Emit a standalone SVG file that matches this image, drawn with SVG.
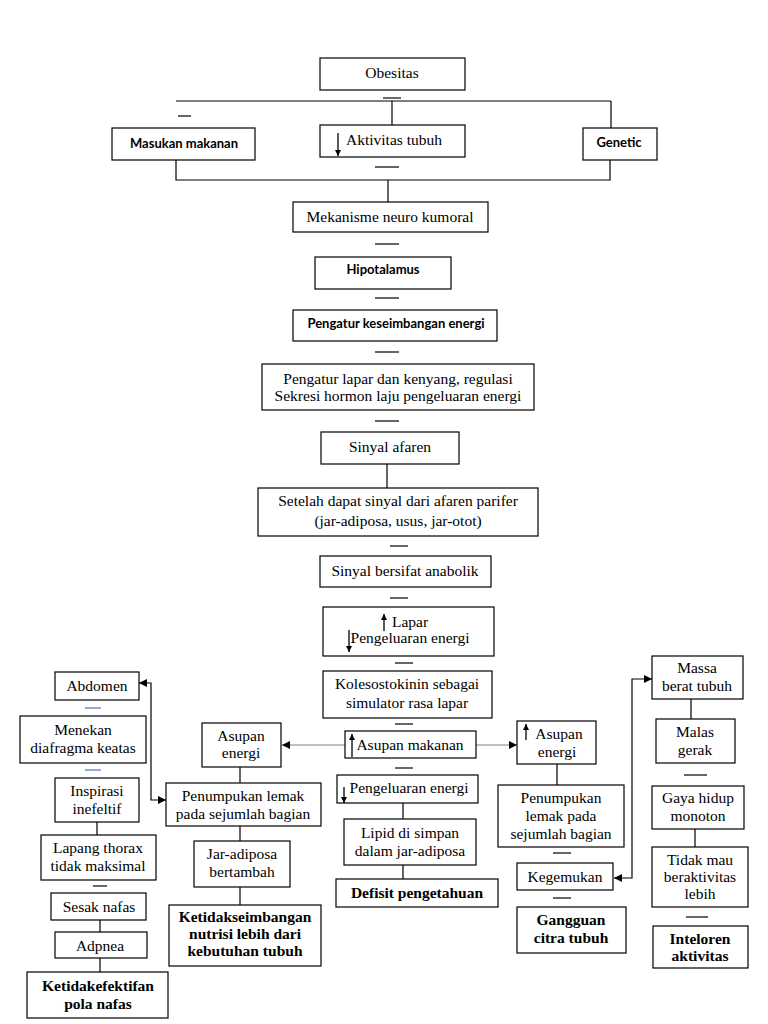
<svg xmlns="http://www.w3.org/2000/svg" width="768" height="1024" viewBox="0 0 768 1024">
<defs>
<style>
.b{fill:#fff;stroke:#000;stroke-width:1.2}
.t{font-family:"Liberation Serif",serif;font-size:15.5px;fill:#000;text-anchor:middle}
.tb{font-family:"Liberation Serif",serif;font-size:15.5px;font-weight:bold;fill:#000;text-anchor:middle}
.s{font-family:Lato,"Liberation Sans",sans-serif;font-size:13px;font-weight:bold;fill:#000;text-anchor:middle}
.l{stroke:#000;stroke-width:1.2;fill:none}
.g{stroke:#808080;stroke-width:1.2;fill:none}
.d{stroke:#000;stroke-width:1.2}
.bd{stroke:#4a72c0;stroke-width:1.2}
.ia{stroke:#000;stroke-width:1.3}
</style>
<marker id="ah" viewBox="0 0 10 10" refX="10" refY="5" markerWidth="8" markerHeight="8" markerUnits="userSpaceOnUse" orient="auto-start-reverse">
<path d="M0,0L10,5L0,10z" fill="#000"/>
</marker>
<marker id="sa" viewBox="0 0 10 10" refX="10" refY="5" markerWidth="6" markerHeight="6" markerUnits="userSpaceOnUse" orient="auto">
<path d="M0,0L10,5L0,10z" fill="#000"/>
</marker>
</defs>
<rect width="768" height="1024" fill="#fff"/>

<g id="connectors">
<line class="d" x1="383" y1="98" x2="401" y2="98"/>
<polyline class="l" points="176,101 611,101"/>
<line class="l" x1="392" y1="101" x2="392" y2="126"/>
<line class="l" x1="611" y1="101" x2="611" y2="128"/>
<line class="d" x1="178" y1="116" x2="191" y2="116"/>
<line class="d" x1="375" y1="167" x2="399" y2="167"/>
<polyline class="l" points="176,160 176,180 610,180 610,160"/>
<line class="l" x1="388" y1="180" x2="388" y2="202"/>
<line class="d" x1="375" y1="244" x2="399" y2="244"/>
<line class="d" x1="375" y1="298" x2="399" y2="298"/>
<line class="d" x1="375" y1="352" x2="399" y2="352"/>
<line class="d" x1="375" y1="421" x2="399" y2="421"/>
<line class="l" x1="387" y1="464" x2="387" y2="488"/>
<line class="d" x1="390" y1="546" x2="408" y2="546"/>
<line class="d" x1="390" y1="598" x2="408" y2="598"/>
<line class="d" x1="395" y1="663" x2="413" y2="663"/>
<line class="d" x1="395" y1="724" x2="413" y2="724"/>
<line class="g" x1="345" y1="745" x2="282" y2="745" marker-end="url(#ah)"/>
<line class="g" x1="476" y1="745" x2="517" y2="745" marker-end="url(#ah)"/>
<line class="d" x1="395" y1="768" x2="413" y2="768"/>
<line class="l" x1="403" y1="803" x2="403" y2="819"/>
<line class="l" x1="403" y1="865" x2="403" y2="879"/>
<line class="l" x1="240" y1="767" x2="240" y2="783"/>
<line class="l" x1="240" y1="826" x2="240" y2="841"/>
<line class="l" x1="240" y1="887" x2="240" y2="905"/>
<polyline class="l" points="139,683 151,683 151,800 166,800" marker-start="url(#ah)" marker-end="url(#ah)"/>
<line class="bd" x1="85" y1="708" x2="101" y2="708"/>
<line class="bd" x1="85" y1="770" x2="101" y2="770"/>
<line class="l" x1="97" y1="822" x2="97" y2="835"/>
<line class="d" x1="93" y1="886" x2="107" y2="886"/>
<line class="l" x1="100" y1="920" x2="100" y2="932"/>
<line class="l" x1="100" y1="958" x2="100" y2="972"/>
<line class="l" x1="557" y1="764" x2="557" y2="785"/>
<line class="d" x1="553" y1="853" x2="571" y2="853"/>
<line class="d" x1="553" y1="898" x2="571" y2="898"/>
<polyline class="l" points="614,878 632,878 632,679 652,679" marker-start="url(#ah)" marker-end="url(#ah)"/>
<line class="l" x1="691" y1="699" x2="691" y2="719"/>
<line class="d" x1="684" y1="775" x2="707" y2="775"/>
<line class="l" x1="695" y1="829" x2="695" y2="847"/>
<line class="d" x1="686" y1="917" x2="708" y2="917"/>
</g>

<g id="obesitas"><rect class="b" x="320" y="58" width="145" height="32"/><text class="t" x="392" y="78">Obesitas</text></g>
<g id="masukan"><rect class="b" x="112" y="128" width="143" height="32"/><text class="s" x="184" y="148">Masukan makanan</text></g>
<g id="aktivitas"><rect class="b" x="320" y="125" width="145" height="32"/><line class="ia" x1="338" y1="133" x2="338" y2="156" marker-end="url(#sa)"/><text class="t" x="394" y="145">Aktivitas tubuh</text></g>
<g id="genetic"><rect class="b" x="583" y="128" width="74" height="32"/><text class="s" x="619" y="147">Genetic</text></g>
<g id="mekanisme"><rect class="b" x="293" y="202" width="195" height="30"/><text class="t" x="390" y="222">Mekanisme neuro kumoral</text></g>
<g id="hipotalamus"><rect class="b" x="315" y="257" width="136" height="32"/><text class="s" x="383" y="274">Hipotalamus</text></g>
<g id="pengatur-keseimbangan"><rect class="b" x="293" y="310" width="204" height="31"/><text class="s" x="396" y="328">Pengatur keseimbangan energi</text></g>
<g id="pengatur-lapar"><rect class="b" x="262" y="364" width="272" height="46"/><text class="t" x="398" y="384">Pengatur lapar dan kenyang, regulasi</text><text class="t" x="398" y="401">Sekresi hormon laju pengeluaran energi</text></g>
<g id="sinyal-afaren"><rect class="b" x="321" y="432" width="138" height="32"/><text class="t" x="390" y="452">Sinyal afaren</text></g>
<g id="setelah"><rect class="b" x="258" y="488" width="280" height="48"/><text class="t" x="398" y="506">Setelah dapat sinyal dari afaren parifer</text><text class="t" x="398" y="526">(jar-adiposa, usus, jar-otot)</text></g>
<g id="sinyal-anabolik"><rect class="b" x="320" y="556" width="171" height="31"/><text class="t" x="405" y="576">Sinyal bersifat anabolik</text></g>
<g id="lapar"><rect class="b" x="323" y="607" width="171" height="49"/><line class="ia" x1="384" y1="631" x2="384" y2="614" marker-end="url(#sa)"/><text class="t" x="410" y="627">Lapar</text><line class="ia" x1="349" y1="630" x2="349" y2="652" marker-end="url(#sa)"/><text class="t" x="410" y="643">Pengeluaran energi</text></g>
<g id="kolesostokinin"><rect class="b" x="323" y="671" width="169" height="47"/><text class="t" x="407" y="689">Kolesostokinin sebagai</text><text class="t" x="407" y="708">simulator rasa lapar</text></g>
<g id="asupan-makanan"><rect class="b" x="345" y="731" width="131" height="27"/><line class="ia" x1="352" y1="757" x2="352" y2="734" marker-end="url(#sa)"/><text class="t" x="410" y="750">Asupan makanan</text></g>
<g id="pengeluaran"><rect class="b" x="337" y="775" width="141" height="28"/><line class="ia" x1="344" y1="787" x2="344" y2="803" marker-end="url(#sa)"/><text class="t" x="409" y="793">Pengeluaran energi</text></g>
<g id="lipid"><rect class="b" x="344" y="819" width="132" height="46"/><text class="t" x="410" y="838">Lipid di simpan</text><text class="t" x="410" y="856">dalam jar-adiposa</text></g>
<g id="defisit"><rect class="b" x="336" y="879" width="162" height="28"/><text class="tb" x="417" y="898">Defisit pengetahuan</text></g>

<g id="asupan-energi-kiri"><rect class="b" x="202" y="723" width="79" height="44"/><text class="t" x="241" y="741">Asupan</text><text class="t" x="241" y="758">energi</text></g>
<g id="penumpukan-kiri"><rect class="b" x="166" y="783" width="155" height="43"/><text class="t" x="243" y="801">Penumpukan lemak</text><text class="t" x="243" y="819">pada sejumlah bagian</text></g>
<g id="jar-adiposa"><rect class="b" x="194" y="841" width="96" height="46"/><text class="t" x="242" y="859">Jar-adiposa</text><text class="t" x="242" y="877">bertambah</text></g>
<g id="ketidakseimbangan"><rect class="b" x="169" y="905" width="152" height="61"/><text class="tb" x="245" y="922">Ketidakseimbangan</text><text class="tb" x="245" y="939">nutrisi lebih dari</text><text class="tb" x="245" y="956">kebutuhan tubuh</text></g>

<g id="abdomen"><rect class="b" x="55" y="672" width="84" height="28"/><text class="t" x="97" y="691">Abdomen</text></g>
<g id="menekan"><rect class="b" x="20" y="716" width="126" height="47"/><text class="t" x="83" y="735">Menekan</text><text class="t" x="83" y="753">diafragma keatas</text></g>
<g id="inspirasi"><rect class="b" x="55" y="778" width="84" height="44"/><text class="t" x="97" y="796">Inspirasi</text><text class="t" x="97" y="814">inefeltif</text></g>
<g id="lapang"><rect class="b" x="41" y="835" width="115" height="45"/><text class="t" x="98" y="853">Lapang thorax</text><text class="t" x="98" y="871">tidak maksimal</text></g>
<g id="sesak"><rect class="b" x="51" y="893" width="95" height="27"/><text class="t" x="99" y="912">Sesak nafas</text></g>
<g id="adpnea"><rect class="b" x="55" y="932" width="92" height="26"/><text class="t" x="100" y="951">Adpnea</text></g>
<g id="ketidakefektifan"><rect class="b" x="27" y="972" width="141" height="46"/><text class="tb" x="98" y="991">Ketidakefektifan</text><text class="tb" x="98" y="1009">pola nafas</text></g>

<g id="asupan-energi-kanan"><rect class="b" x="517" y="721" width="79" height="43"/><line class="ia" x1="526" y1="740" x2="526" y2="724" marker-end="url(#sa)"/><text class="t" x="559" y="739">Asupan</text><text class="t" x="557" y="757">energi</text></g>
<g id="penumpukan-kanan"><rect class="b" x="498" y="785" width="126" height="62"/><text class="t" x="561" y="803">Penumpukan</text><text class="t" x="561" y="821">lemak pada</text><text class="t" x="561" y="839">sejumlah bagian</text></g>
<g id="kegemukan"><rect class="b" x="517" y="863" width="96" height="27"/><text class="t" x="565" y="882">Kegemukan</text></g>
<g id="gangguan"><rect class="b" x="517" y="907" width="109" height="46"/><text class="tb" x="571" y="925">Gangguan</text><text class="tb" x="571" y="943">citra tubuh</text></g>

<g id="massa"><rect class="b" x="652" y="656" width="91" height="43"/><text class="t" x="697" y="673">Massa</text><text class="t" x="697" y="691">berat tubuh</text></g>
<g id="malas"><rect class="b" x="656" y="719" width="79" height="44"/><text class="t" x="695" y="737">Malas</text><text class="t" x="695" y="755">gerak</text></g>
<g id="gaya"><rect class="b" x="652" y="786" width="92" height="43"/><text class="t" x="698" y="803">Gaya hidup</text><text class="t" x="698" y="821">monoton</text></g>
<g id="tidak-mau"><rect class="b" x="652" y="847" width="96" height="60"/><text class="t" x="700" y="865">Tidak mau</text><text class="t" x="700" y="882">beraktivitas</text><text class="t" x="700" y="899">lebih</text></g>
<g id="inteloren"><rect class="b" x="653" y="926" width="95" height="42"/><text class="tb" x="700" y="944">Inteloren</text><text class="tb" x="700" y="961">aktivitas</text></g>
</svg>
